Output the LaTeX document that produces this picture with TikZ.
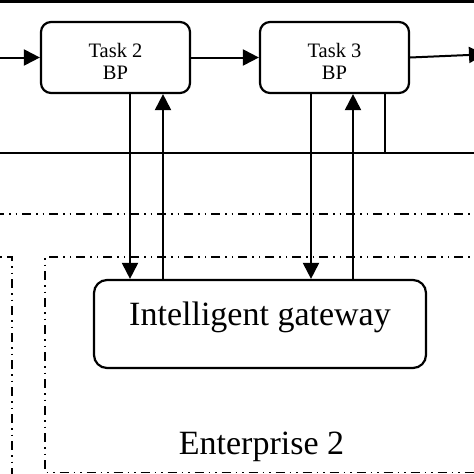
\documentclass[tikz,border=0pt]{standalone}
\usepackage{fontspec}
\setmainfont{Liberation Serif}
\usetikzlibrary{arrows.meta}
\begin{document}
\begin{tikzpicture}[x=1pt,y=-1pt,
  task/.style={draw, line width=2.2pt, rounded corners=10pt, minimum width=149pt, minimum height=71pt, inner sep=0pt, align=center, font=\fontsize{20.5}{22.5}\selectfont},
  gate/.style={draw, line width=2.2pt, rounded corners=13pt, minimum width=332pt, minimum height=88pt, inner sep=0pt, text height=24pt, text depth=22pt, font=\fontsize{34}{40}\selectfont},
  label34/.style={font=\fontsize{34}{40}\selectfont, inner sep=0pt, anchor=base},
  conn/.style={line width=2pt, -{Triangle[length=16pt,width=16pt]}},
  plainline/.style={line width=2pt},
  ddot/.style={line width=1.4pt, dash pattern=on 9pt off 5pt on 1.5pt off 5pt on 1.5pt off 5pt},
]
\useasboundingbox (0,0) rectangle (474,474);
\clip (0,0) rectangle (474,474);
\fill[white] (0,0) rectangle (474,474);

% top border
\coordinate (topL) at (0,1);
\coordinate (topR) at (480,1);
\draw[line width=3pt] (topL) -- (topR);

% tasks
\node[task] (t2) at (115.5,57.5) {\rule{0pt}{22pt}Task 2\\BP};
\node[task] (t3) at (334.5,57.5) {\rule{0pt}{22pt}Task 3\\BP};

% gateway
\node[gate] (gw) at (260,324) {Intelligent gateway};
\node[label34] (e2) at (261.5,454) {Enterprise 2};

% horizontal flow
\coordinate (inL) at (-5,57.5);
\coordinate (outR) at (485,54.3);
\draw[conn] (inL) -- (t2.west);
\draw[conn] (t2) -- (t3);
\draw[conn] (t3.east) -- (outR);

% lane line
\coordinate (hl) at (-5,153);
\coordinate (hr) at (480,153);
\draw[plainline] (hl) -- (hr);

% dash-dot boundaries
\coordinate (dl) at (-5,214);
\coordinate (dr) at (480,214);
\draw[ddot] (dl) -- (dr);
\draw[ddot] (490,257) -- (45,257) -- (45,472.5) -- (490,472.5);
\draw[ddot] (-20,257) -- (12,257) -- (12,490);

% vertical connectors
\draw[conn] ([xshift=14.5]t2.south) -- ([xshift=14.5]t2.south |- gw.north);
\draw[conn] ([xshift=47.5]t2.south |- gw.north) -- ([xshift=47.5]t2.south);
\draw[conn] ([xshift=-23.5]t3.south) -- ([xshift=-23.5]t3.south |- gw.north);
\draw[conn] ([xshift=18.5]t3.south |- gw.north) -- ([xshift=18.5]t3.south);
\draw[plainline] ([xshift=50.5]t3.south) -- ([xshift=50.5]t3.south |- hl);
\end{tikzpicture}
\end{document}
